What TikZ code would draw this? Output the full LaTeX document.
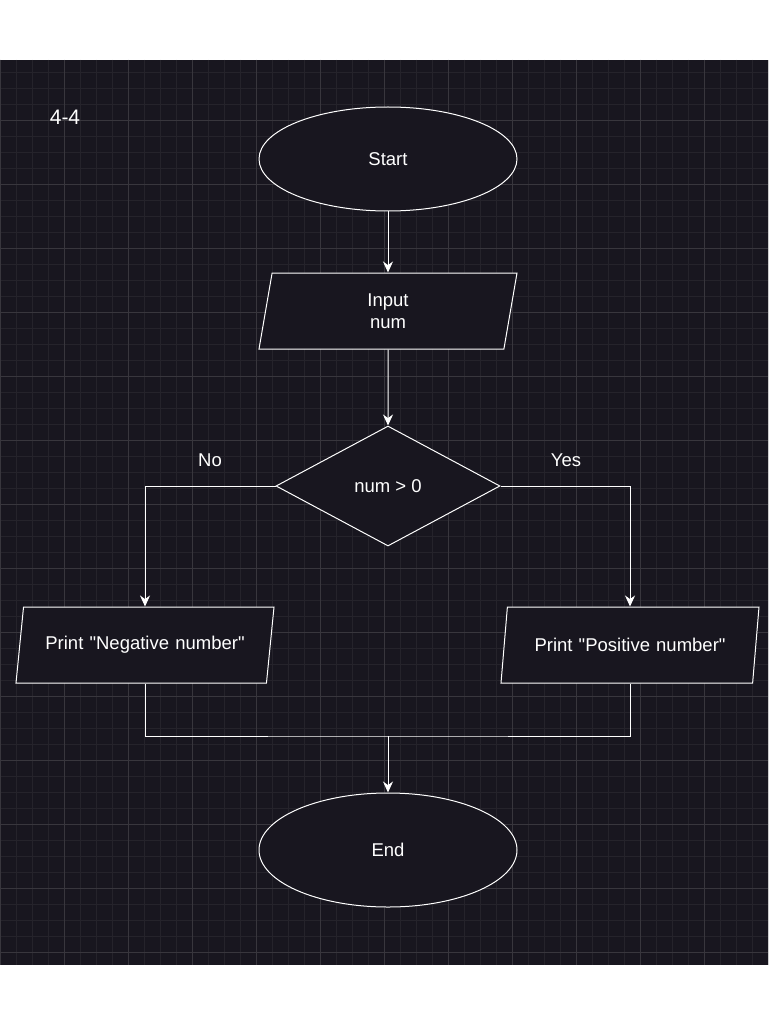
\documentclass[tikz,border=0pt]{standalone}
\usepackage{fontspec}
\setmainfont{Liberation Sans}
\usetikzlibrary{shapes.geometric,arrows.meta}
\definecolor{bg}{HTML}{18161F}
\definecolor{gmin}{HTML}{25232B}
\definecolor{gmaj}{HTML}{38363D}
\begin{document}
\begin{tikzpicture}[x=1pt,y=-1pt,
  sh/.style={draw=white,fill=bg,line width=1pt,text=white,font=\fontsize{18.5}{22}\selectfont,align=center},
  ell/.style={sh,ellipse,minimum width=258pt,minimum height=104pt,inner sep=0pt},
  io/.style={sh,trapezium,trapezium left angle=72.5,trapezium right angle=107.5,minimum height=76pt,text width=230pt,inner xsep=0pt,trapezium stretches body},
  dia/.style={sh,diamond,minimum width=224pt,minimum height=120pt,inner sep=0pt,aspect=1.87},
  arr/.style={draw=white,line width=1pt,-{Stealth[length=11pt,width=10pt]}},
  ln/.style={draw=white,line width=1pt},
  lab/.style={text=white,font=\fontsize{18.5}{20}\selectfont}]
\useasboundingbox (0,0) rectangle (768,1024);
\fill[white] (0,0) rectangle (768,1024);
\fill[bg] (0,60) rectangle (768,965);
\begin{scope}
\clip (0,60) rectangle (768,965);
\foreach \i in {0,...,48} {\draw[gmin,line width=0.6pt] (\i*16,60)--(\i*16,965);}
\foreach \i in {0,...,60} {\draw[gmin,line width=0.6pt] (0,40+\i*16)--(768,40+\i*16);}
\foreach \i in {0,...,12} {\draw[gmaj,line width=0.8pt] (\i*64,60)--(\i*64,965);}
\foreach \i in {0,...,15} {\draw[gmaj,line width=0.8pt] (0,56+\i*64)--(768,56+\i*64);}
\end{scope}
\node[lab,font=\fontsize{21}{22}\selectfont] (title) at (65,117) {4-4};
\node[ell] (start) at (388,159) {Start};
\node[io,minimum width=258pt] (in) at (388,311) {Input\\num};
\node[dia] (d) at (388,486) {num > 0};
\node[io,minimum width=258pt] (neg) at (145,645) {Print \textquotedbl Negative number\textquotedbl};
\node[io,minimum width=258pt] (pos) at (630,645) {Print \textquotedbl Positive number\textquotedbl};
\node[ell,minimum height=114pt] (end) at (388,850) {End};
\coordinate (m) at (388,736);
\draw[arr] (start) -- (in);
\draw[arr] (in) -- (d);
\draw[arr] (d.west) -| (neg.north);
\draw[arr] (d.east) -| (pos.north);
\draw[ln] (neg.south) |- (m) -| (pos.south);
\draw[arr] (m) -- (end);
\node[lab] (no) at (210,460) {No};
\node[lab] (yes) at (566,460) {Yes};
\end{tikzpicture}
\end{document}
